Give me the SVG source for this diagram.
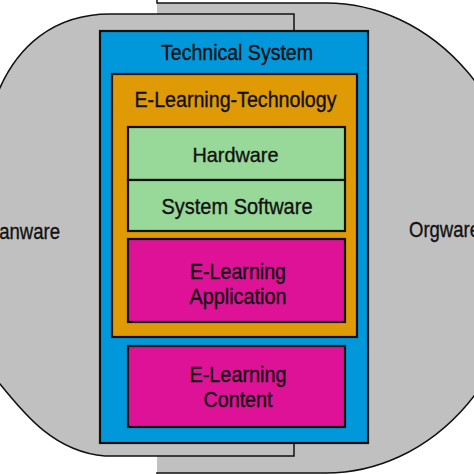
<svg xmlns="http://www.w3.org/2000/svg" width="474" height="474" viewBox="0 0 474 474">
<style>
.bg{fill:#c0c0c0;stroke:#111;stroke-width:1.5}
.box{stroke:#111;stroke-width:2.2}
.t{font-family:"Liberation Sans",Arial,sans-serif;font-size:22px;fill:#111;stroke:#111;stroke-width:0.35;text-anchor:middle}
</style>
<rect width="474" height="474" fill="#fff"/>
<g id="orgware">
<path class="bg" d="M157,-2 V3 H326 A200,235 0 0 1 526,238 A200,235 0 0 1 326,473 H157 V480"/>
<text class="t" x="409" y="237" style="text-anchor:start" textLength="71" lengthAdjust="spacingAndGlyphs">Orgware</text>
</g>
<g id="humanware">
<path class="bg" d="M294,14 H110 C55,14 15,45 -5,100 L-10,370 L0,384 C25,415 55,452 105,456 H294 Z"/>
<text class="t" x="60" y="239" style="text-anchor:end" textLength="100" lengthAdjust="spacingAndGlyphs">Humanware</text>
</g>
<g id="technical-system">
<rect class="box" x="100" y="31" width="268" height="412" fill="#0098da"/>
<text class="t" x="237" y="60" textLength="152" lengthAdjust="spacingAndGlyphs">Technical System</text>
</g>
<g id="e-learning-technology">
<rect class="box" x="112" y="74" width="245" height="263" fill="#df9a05"/>
<text class="t" x="235.5" y="107" textLength="202" lengthAdjust="spacingAndGlyphs">E-Learning-Technology</text>
</g>
<g id="hardware">
<rect class="box" x="128" y="127" width="217" height="53" fill="#98d898"/>
<text class="t" x="235.5" y="162" style="font-size:21px" textLength="86" lengthAdjust="spacingAndGlyphs">Hardware</text>
</g>
<g id="system-software">
<rect class="box" x="128" y="180" width="217" height="51" fill="#98d898"/>
<text class="t" x="237" y="214" textLength="151" lengthAdjust="spacingAndGlyphs">System Software</text>
</g>
<g id="e-learning-application">
<rect class="box" x="128" y="239" width="217" height="83" fill="#de1296"/>
<text class="t" x="238" y="279" textLength="96" lengthAdjust="spacingAndGlyphs">E-Learning</text>
<text class="t" x="238" y="304" textLength="97" lengthAdjust="spacingAndGlyphs">Application</text>
</g>
<g id="e-learning-content">
<rect class="box" x="128" y="346" width="217" height="81" fill="#de1296"/>
<text class="t" x="238" y="382" textLength="97" lengthAdjust="spacingAndGlyphs">E-Learning</text>
<text class="t" x="238" y="407" textLength="69" lengthAdjust="spacingAndGlyphs">Content</text>
</g>
<g id="connectors"/>
</svg>
